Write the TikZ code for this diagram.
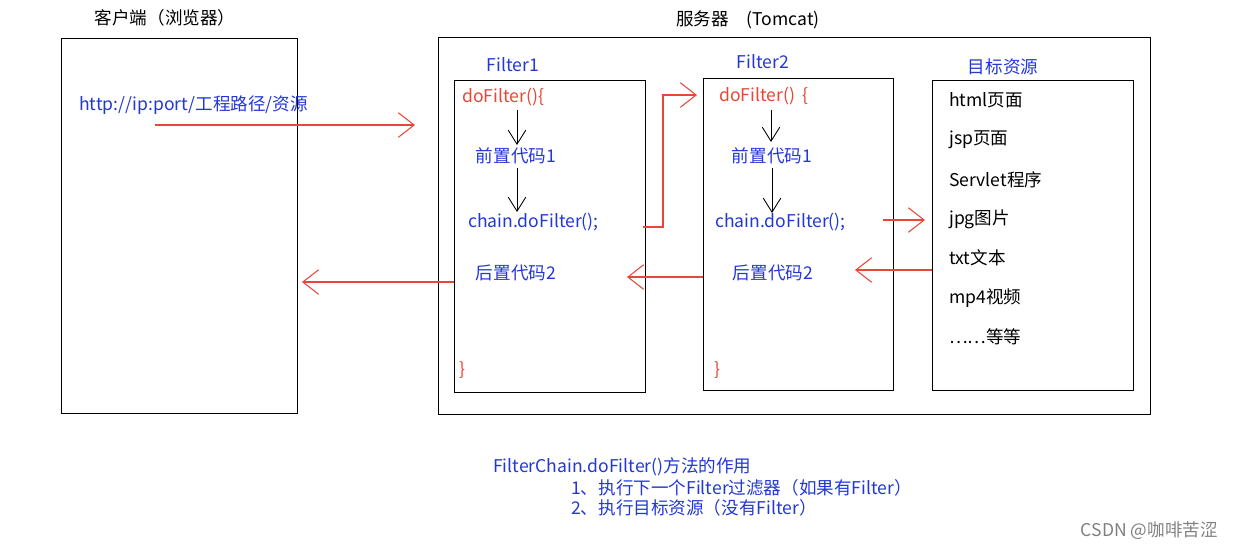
\documentclass[tikz,border=0pt]{standalone}
\usepackage{fontspec}
\setmainfont{Noto Sans CJK SC}
\usetikzlibrary{arrows.meta}
\definecolor{codeblue}{RGB}{35,55,215}
\definecolor{codered}{RGB}{232,70,55}
\tikzset{
  box/.style={draw, line width=0.8pt, anchor=north west, inner sep=0pt},
  bluetext/.style={text=codeblue, font=\fontsize{10}{12}\selectfont},
  redtext/.style={text=codered, font=\fontsize{10}{12}\selectfont},
  title/.style={font=\fontsize{10}{12}\selectfont},
  redarrow/.style={draw=codered, line width=0.6pt, -{Straight Barb[length=9pt,width=14pt]}},
  blackarrow/.style={draw, line width=0.5pt, -{Straight Barb[length=8pt,width=10pt]}}
}
\begin{document}
\begin{tikzpicture}[x=0.02cm, y=-0.02cm]
\useasboundingbox (0,0) rectangle (1238,552);

% client
\node[title] (client_title) at (165,18) {客户端（浏览器）};
\node[box, minimum width=236*0.02cm, minimum height=375*0.02cm] (client) at (61,38) {};
\node[bluetext, anchor=west] (url) at (73,105) {http://ip:port/工程路径/资源};
\coordinate (url_start) at (155,125);
\coordinate (url_end) at (415,125);
\draw[redarrow] (url_start) -- (url_end);

% server
\node[title] (server_title) at (748,20) {服务器\quad (Tomcat)};
\node[box, minimum width=712*0.02cm, minimum height=377*0.02cm] (server) at (438,37) {};

% filter 1
\node[bluetext] (f1_title) at (513,65) {Filter1};
\node[box, minimum width=191*0.02cm, minimum height=312*0.02cm] (f1) at (454,80) {};
\node[redtext, anchor=west] (f1_do) at (456,97) {doFilter()\{};
\node[bluetext] (f1_pre) at (516,156) {前置代码1};
\node[bluetext, anchor=west] (f1_chain) at (462,222) {chain.doFilter();};
\node[bluetext] (f1_post) at (516,273) {后置代码2};
\node[redtext] (f1_end) at (462,370) {\}};
\coordinate (f1_a1) at (517,110);
\coordinate (f1_a2) at (517,145);
\coordinate (f1_a3) at (517,168);
\coordinate (f1_a4) at (517,212);
\draw[blackarrow] (f1_a1) -- (f1_a2);
\draw[blackarrow] (f1_a3) -- (f1_a4);

% filter 2
\node[bluetext] (f2_title) at (763,62) {Filter2};
\node[box, minimum width=190*0.02cm, minimum height=312*0.02cm] (f2) at (703,78) {};
\node[redtext, anchor=west] (f2_do) at (713,96) {doFilter()\ \ \{};
\node[bluetext] (f2_pre) at (772,156) {前置代码1};
\node[bluetext, anchor=west] (f2_chain) at (709,222) {chain.doFilter();};
\node[bluetext] (f2_post) at (773,273) {后置代码2};
\node[redtext] (f2_end) at (717,370) {\}};
\coordinate (f2_a1) at (771,110);
\coordinate (f2_a2) at (771,142);
\coordinate (f2_a3) at (772,168);
\coordinate (f2_a4) at (772,213);
\draw[blackarrow] (f2_a1) -- (f2_a2);
\draw[blackarrow] (f2_a3) -- (f2_a4);

% target
\node[bluetext] (target_title) at (1003,67) {目标资源};
\node[box, minimum width=201*0.02cm, minimum height=310*0.02cm] (target) at (932,80) {};
\foreach \y/\txt in {100/html页面, 140/jsp页面, 180/Servlet程序, 219/jpg图片,
                     258/txt文本, 298/mp4视频, 337/……等等}
  \node[title, anchor=west] at (943,\y) {\txt};

% red flow
\coordinate (hop_a) at (663,227);
\coordinate (hop_b) at (663,95);
\coordinate (hop_c) at (697,95);
\draw[redarrow] (643,227) -- (hop_a) -- (hop_b) -- (hop_c);
\draw[redarrow] (883,220) -- (925,220);
\draw[redarrow] (target.west |- 0,270) -- (855,270);
\draw[redarrow] (f2.west |- 0,277) -- (627,277);
\draw[redarrow] (f1.west |- 0,282) -- (302,282);

% notes
\node[bluetext, anchor=west] (note0) at (487,467) {FilterChain.doFilter()方法的作用};
\node[bluetext, anchor=west] (note1) at (565,488) {1、执行下一个Filter过滤器（如果有Filter）};
\node[bluetext, anchor=west] (note2) at (565,508) {2、执行目标资源（没有Filter）};

\node[anchor=east, text=gray, font=\fontsize{10}{12}\selectfont] (mark) at (1224,531) {CSDN @咖啡苦涩};
\end{tikzpicture}
\end{document}
